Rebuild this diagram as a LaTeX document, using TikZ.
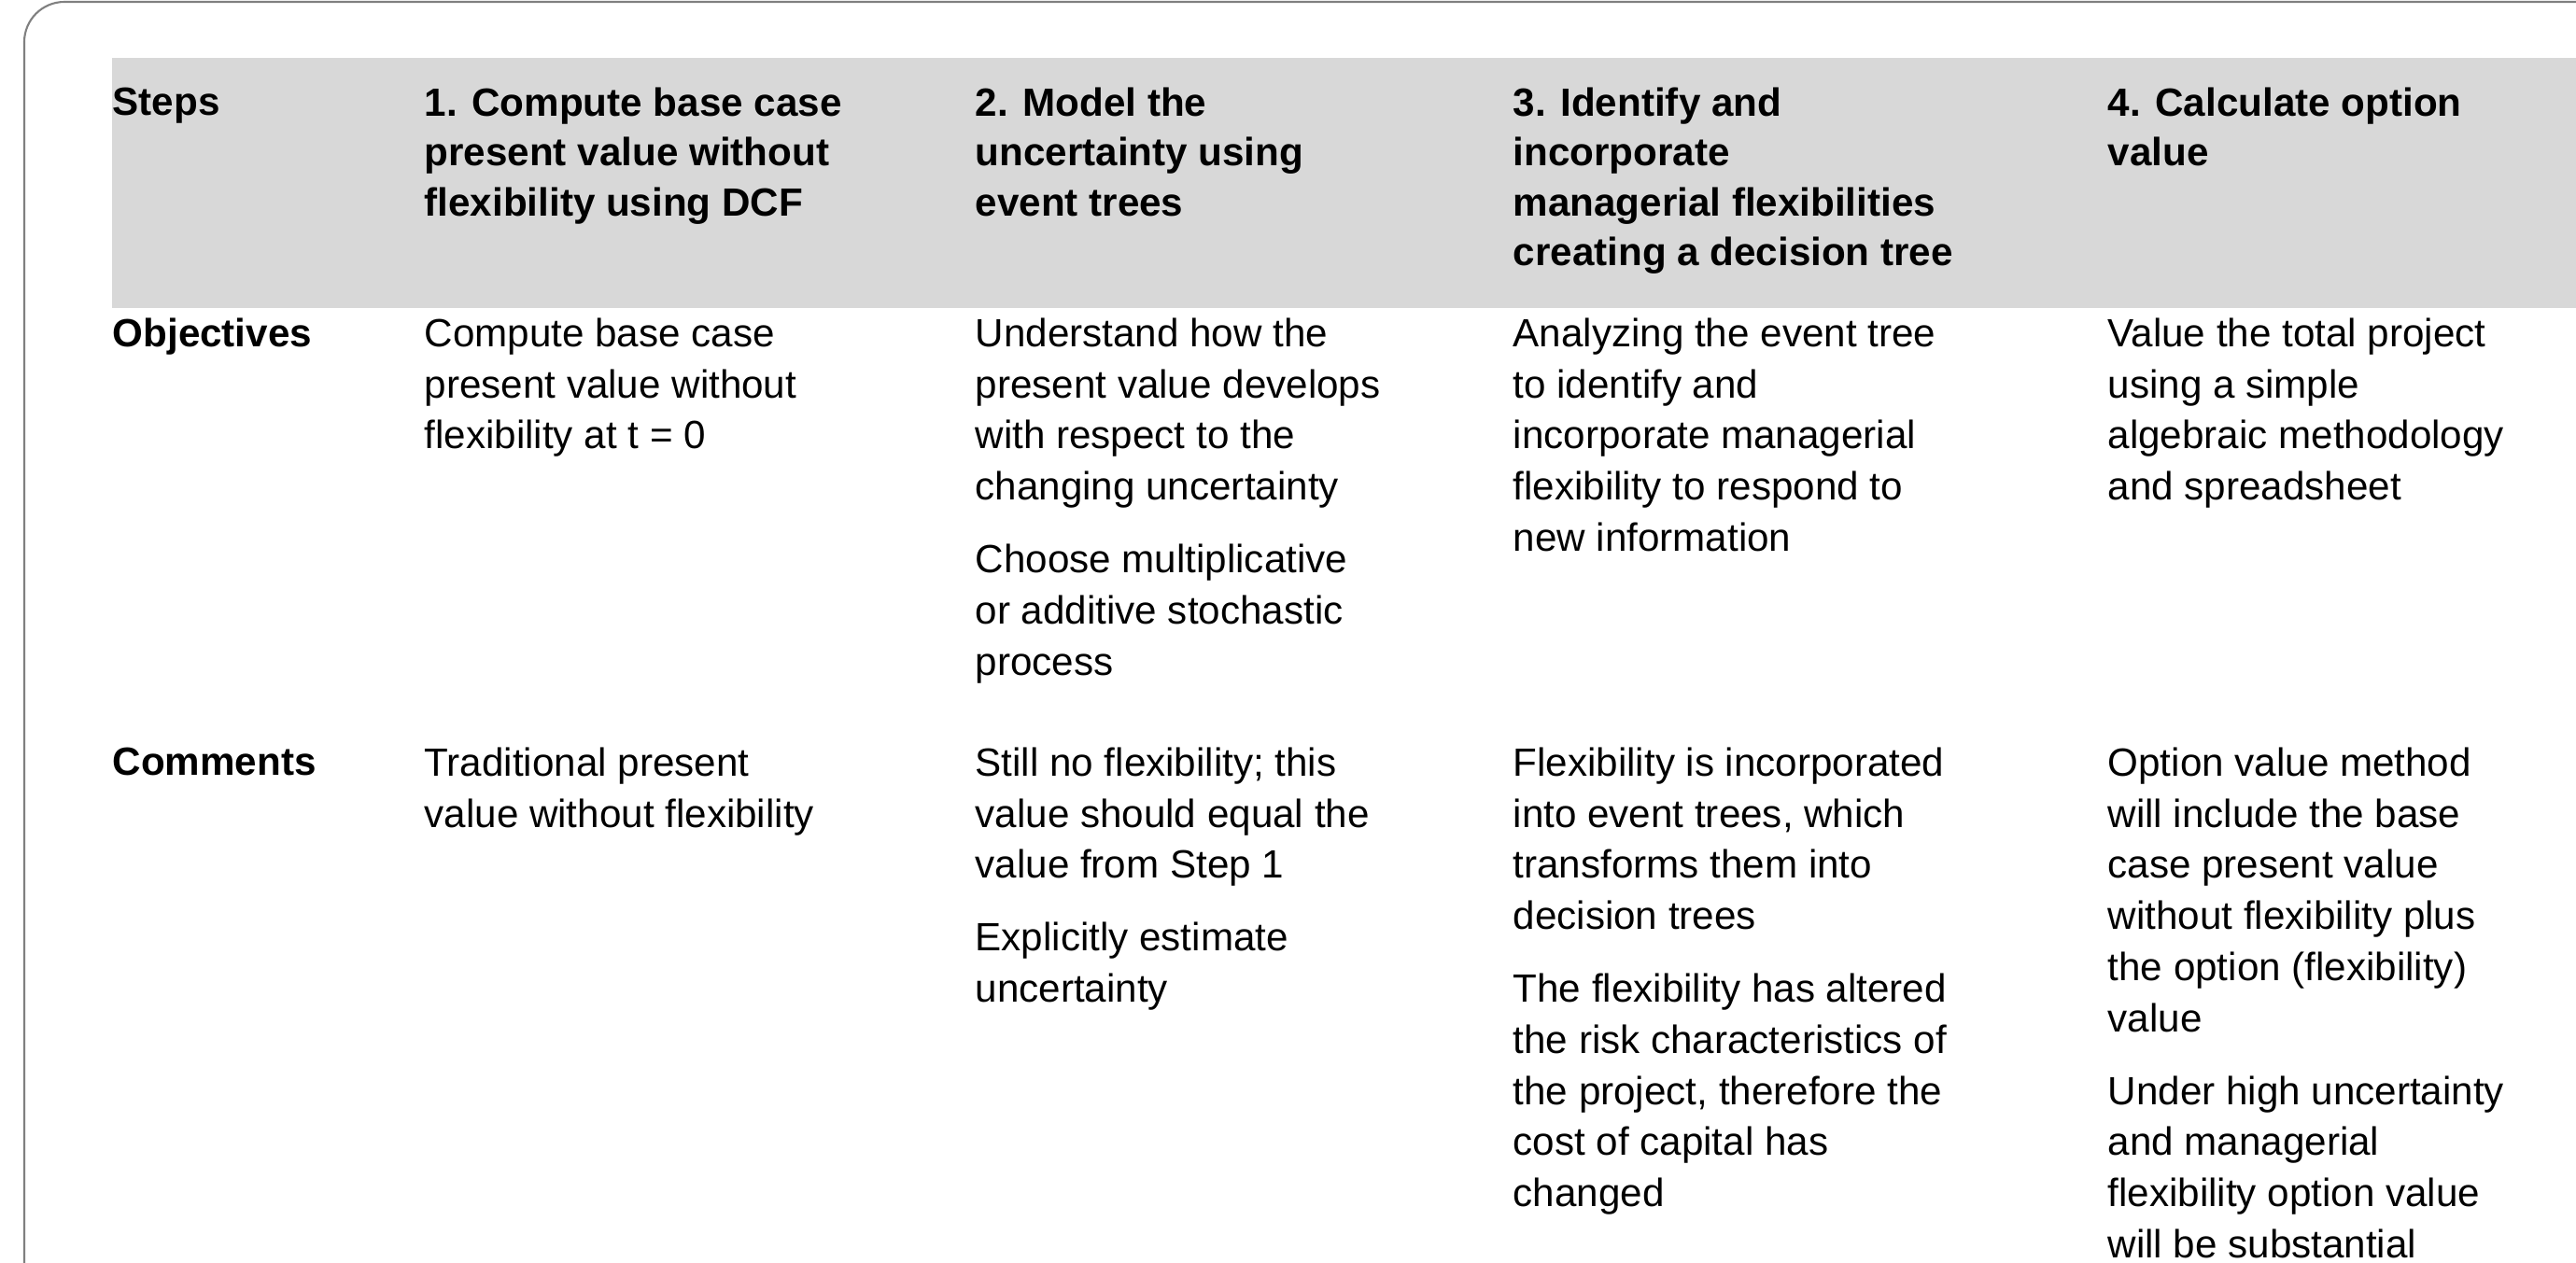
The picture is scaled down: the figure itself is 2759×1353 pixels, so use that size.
\documentclass[tikz,border=0pt]{standalone}
\usepackage{fontspec}
\setmainfont{Liberation Sans}
\definecolor{headgray}{RGB}{216,216,216}
\tikzset{
  cell/.style={anchor=north west, inner sep=0pt, align=left, font=\fontsize{12}{15.6}\selectfont},
  headcell/.style={cell, font=\fontsize{12}{15.2}\selectfont\bfseries},
}
\begin{document}
\begin{tikzpicture}[x=0.1mm, y=-0.1mm]
  \useasboundingbox (0,0) rectangle (2759,1353);
  %
  \fill[headgray] (120,62) rectangle (2759,330);
  \draw[gray, line width=0.6pt] (26,1353) -- (26,45) arc[start angle=180, end angle=270, radius=43] -- (2759,2);
  %
  \node[headcell] (steps) at (120,93) {Steps};
  \node[headcell] (h1) at (454,93) {1. Compute base case\\present value without\\flexibility using DCF};
  \node[headcell] (h2) at (1044,93) {2. Model the\\uncertainty using\\event trees};
  \node[headcell] (h3) at (1620,93) {3. Identify and\\incorporate\\managerial flexibilities\\creating a decision tree};
  \node[headcell] (h4) at (2257,93) {4. Calculate option\\value};
  %
  \node[headcell] (obj) at (120,340) {Objectives};
  \node[cell] (o1) at (454,340) {Compute base case\\present value without\\flexibility at t = 0};
  \node[cell] (o2) at (1044,340) {Understand how the\\present value develops\\with respect to the\\changing uncertainty\\[6.5pt]Choose multiplicative\\or additive stochastic\\process};
  \node[cell] (o3) at (1620,340) {Analyzing the event tree\\to identify and\\incorporate managerial\\flexibility to respond to\\new information};
  \node[cell] (o4) at (2257,340) {Value the total project\\using a simple\\algebraic methodology\\and spreadsheet};
  %
  \node[headcell] (com) at (120,800) {Comments};
  \node[cell] (c1) at (454,800) {Traditional present\\value without flexibility};
  \node[cell] (c2) at (1044,800) {Still no flexibility; this\\value should equal the\\value from Step 1\\[6.5pt]Explicitly estimate\\uncertainty};
  \node[cell] (c3) at (1620,800) {Flexibility is incorporated\\into event trees, which\\transforms them into\\decision trees\\[6.5pt]The flexibility has altered\\the risk characteristics of\\the project, therefore the\\cost of capital has\\changed};
  \node[cell] (c4) at (2257,800) {Option value method\\will include the base\\case present value\\without flexibility plus\\the option (flexibility)\\value\\[6.5pt]Under high uncertainty\\and managerial\\flexibility option value\\will be substantial};
\end{tikzpicture}
\end{document}
